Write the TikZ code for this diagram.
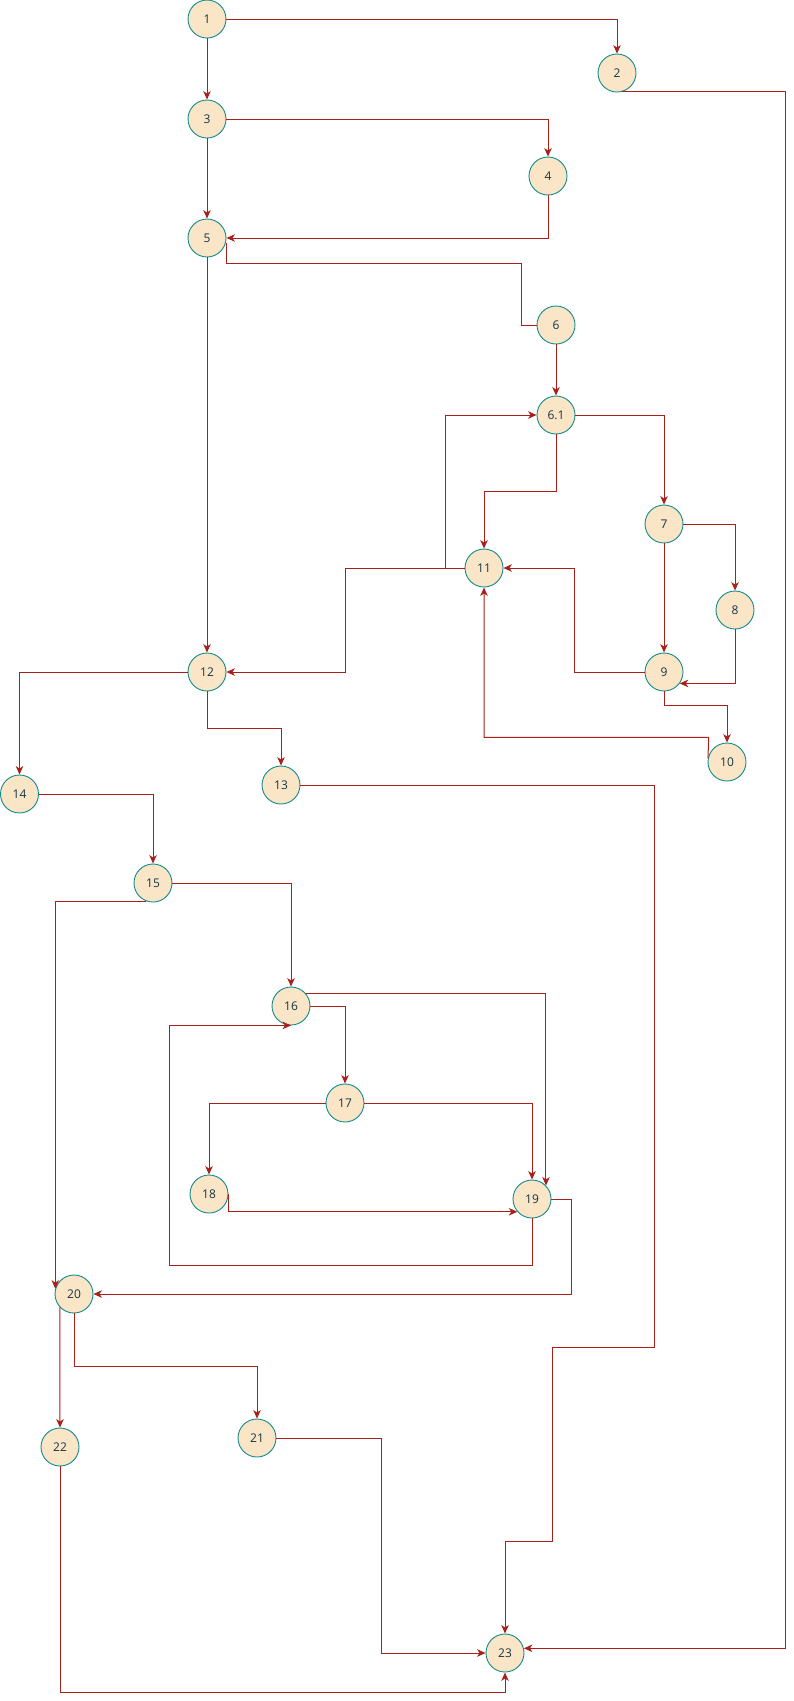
\documentclass[tikz,border=0pt]{standalone}
\usepackage{fontspec}
\setmainfont{Open Sans}
\usetikzlibrary{arrows.meta}
\definecolor{nfill}{HTML}{FAE5C7}
\definecolor{nline}{HTML}{0F8B8D}
\definecolor{ntext}{HTML}{143642}
\definecolor{eline}{HTML}{A8201A}
\begin{document}
\begin{tikzpicture}[x=1pt,y=-1pt,
  vtx/.style={circle,draw=nline,fill=nfill,line width=0.9pt,minimum size=38pt,inner sep=0pt,
    text=ntext,font=\fontsize{12}{14}\selectfont},
  edge/.style={draw=eline,line width=1pt},
  arr/.style={edge,-{Stealth[length=8.5pt,width=7.5pt,inset=2.5pt]}}]
\useasboundingbox (0,0) rectangle (794,1701);
\node[vtx] (n1) at (207,19) {1};
\node[vtx] (n2) at (617,73) {2};
\node[vtx] (n3) at (207,119) {3};
\node[vtx] (n4) at (548,176) {4};
\node[vtx] (n5) at (207,238) {5};
\node[vtx] (n6) at (556,325) {6};
\node[vtx] (n61) at (556,415) {6.1};
\node[vtx] (n7) at (664,524) {7};
\node[vtx] (n11) at (484,568) {11};
\node[vtx] (n8) at (735,610) {8};
\node[vtx] (n9) at (664,672) {9};
\node[vtx] (n10) at (727,762) {10};
\node[vtx] (n12) at (207,672) {12};
\node[vtx] (n13) at (281,785) {13};
\node[vtx] (n14) at (19.5,794) {14};
\node[vtx] (n15) at (153,883) {15};
\node[vtx] (n16) at (291,1006) {16};
\node[vtx] (n17) at (345,1103) {17};
\node[vtx] (n18) at (209,1194) {18};
\node[vtx] (n19) at (532,1199) {19};
\node[vtx] (n20) at (74,1294) {20};
\node[vtx] (n21) at (257,1438) {21};
\node[vtx] (n22) at (60,1447) {22};
\node[vtx] (n23) at (505,1653) {23};
\coordinate (c2) at (785.7,0);

\draw[arr] (n1.east) -| (n2.north);
\draw[arr] (n1.south) -- (n3.north);
\draw[arr] (n3.east) -| (n4.north);
\draw[arr] (n3.south) -- (n5.north);
\draw[arr] (n4.south) |- (n5.east);
\draw[arr] (n2.-76) -| (c2 |- n23.14) -- (n23.14);
\draw[edge] (n6.west) -- (521.7,325) |- (226.7,263.3) -- (226.7,243);
\draw[arr] (n5.south) -- (n12.north);
\draw[arr] (n6.south) -- (n61.north);
\draw[arr] (n61.south) -- (556,491.7) -| (n11.north);
\draw[arr] (n61.east) -| (n7.north);
\draw[arr] (n7.east) -| (n8.north);
\draw[arr] (n7.south) -- (n9.north);
\draw[arr] (n8.south) |- (n9.-36);
\draw[arr] (n9.west) -- (574.3,672) |- (n11.east);
\draw[arr] (n9.south) -- (664,705) -| (n10.north);
\draw[arr] (n10.168) -- (708.7,737.3) -| (n11.south);
\draw[arr] (n11.west) -- (345.7,568) |- (n12.east);
\draw[arr] (445.3,568) |- (n61.west);
\draw[arr] (n12.west) -| (n14.north);
\draw[arr] (n12.south) -- (207,728.7) -| (n13.north);
\draw[arr] (n13.east) -- (654.3,785) -- (654.3,1347.3) -- (552.3,1347.3) -- (552.3,1541) -| (n23.north);
\draw[arr] (n14.east) -| (n15.north);
\draw[arr] (n15.east) -| (n16.north);
\draw[arr] (n15.-110) -| (n20.164);
\draw[arr] (n16.east) -| (n17.north);
\draw[arr] (n16.40) -| (n19.44);
\draw[arr] (n17.west) -| (n18.north);
\draw[arr] (n17.east) -| (n19.north);
\draw[arr] (n18.east) |- (n19.221);
\draw[arr] (n19.south) |- (169.3,1265) |- (n16.south);
\draw[arr] (n19.east) -- (571.7,1199) |- (n20.east);
\draw[arr] (n20.223) -- (n22.north);
\draw[arr] (n20.south) -- (74,1366.3) -| (n21.north);
\draw[arr] (n21.east) -- (381.3,1438) |- (n23.west);
\draw[arr] (n22.south) -- (60,1692.3) -| (n23.south);
\end{tikzpicture}
\end{document}
